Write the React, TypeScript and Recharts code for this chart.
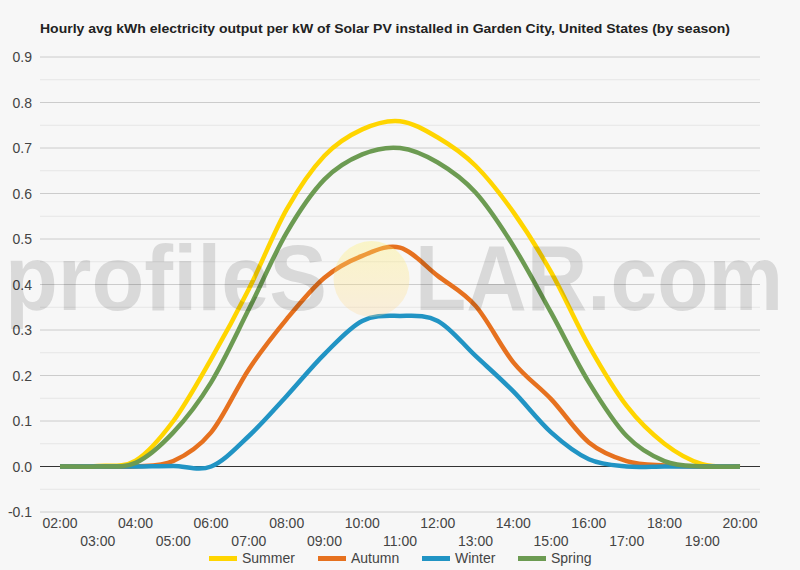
import React from 'react';
import { LineChart, Line, XAxis, YAxis, CartesianGrid, ReferenceLine } from 'recharts';

const hours = ['02:00','03:00','04:00','05:00','06:00','07:00','08:00','09:00','10:00','11:00','12:00','13:00','14:00','15:00','16:00','17:00','18:00','19:00','20:00'];
const summer = [0, 0.001, 0.013, 0.1, 0.236, 0.39, 0.565, 0.683, 0.741, 0.759, 0.723, 0.661, 0.559, 0.427, 0.265, 0.133, 0.05, 0.005, 0];
const autumn = [0, 0, 0, 0.012, 0.075, 0.214, 0.324, 0.415, 0.463, 0.481, 0.419, 0.353, 0.229, 0.148, 0.053, 0.012, 0.002, 0, 0];
const winter = [0, 0, 0, 0.001, 0, 0.067, 0.155, 0.247, 0.32, 0.331, 0.32, 0.243, 0.165, 0.075, 0.016, 0, 0, 0, 0];
const spring = [0, 0, 0.008, 0.075, 0.185, 0.346, 0.514, 0.631, 0.686, 0.7, 0.668, 0.602, 0.485, 0.338, 0.185, 0.067, 0.012, 0, 0];
const yTicks = [-0.1, 0, 0.1, 0.2, 0.3, 0.4, 0.5, 0.6, 0.7, 0.8, 0.9];
const minorTicks = [-0.05, 0.05, 0.15, 0.25, 0.35, 0.45, 0.55, 0.65, 0.75, 0.85];

const seriesInfo = [
  { key: 'Summer', color: '#ffd500' },
  { key: 'Autumn', color: '#e6711f' },
  { key: 'Winter', color: '#2194c4' },
  { key: 'Spring', color: '#6c9b52' },
];

const data = hours.map((h, i) => ({
  hour: h,
  Summer: summer[i],
  Autumn: autumn[i],
  Winter: winter[i],
  Spring: spring[i],
}));

// Catmull-Rom style curve (like Google Charts "function" curves)
const smoothCurve: any = (context: any) => {
  let pts: number[][] = [];
  return {
    areaStart() {},
    areaEnd() {},
    lineStart() { pts = []; },
    point(x: number, y: number) { pts.push([+x, +y]); },
    lineEnd() {
      const n = pts.length;
      if (!n) return;
      context.moveTo(pts[0][0], pts[0][1]);
      const k = 1 / 6;
      for (let i = 0; i < n - 1; i++) {
        const p0 = pts[i - 1] || pts[i];
        const p1 = pts[i];
        const p2 = pts[i + 1];
        const p3 = pts[i + 2] || p2;
        context.bezierCurveTo(
          p1[0] + (p2[0] - p0[0]) * k, p1[1] + (p2[1] - p0[1]) * k,
          p2[0] - (p3[0] - p1[0]) * k, p2[1] - (p3[1] - p1[1]) * k,
          p2[0], p2[1]
        );
      }
    },
  };
};

const FONT = '"Liberation Sans", Arial, sans-serif';

const XTick = (props: any) => {
  const { x, y, payload, index } = props;
  const dy = index % 2 === 0 ? 8 : 26;
  return (
    <text x={x} y={y + dy} textAnchor="middle" fontSize={14} fill="#444" fontFamily={FONT}>
      {payload.value}
    </text>
  );
};

const YTick = (props: any) => {
  const { y, payload } = props;
  return (
    <text x={32} y={y + 5} textAnchor="end" fontSize={14} fill="#444" fontFamily={FONT}>
      {Number(payload.value).toFixed(1)}
    </text>
  );
};

const legendPos = [
  { sx: 209, tx: 242 },
  { sx: 318, tx: 351 },
  { sx: 422, tx: 455 },
  { sx: 518, tx: 551 },
];

export default function App() {
  return (
    <div style={{ position: 'fixed', left: 0, top: 0, width: 800, height: 570, background: '#f7f7f7' }}>
      <LineChart
        width={800}
        height={570}
        data={data}
        margin={{ top: 57, right: 40, left: 0, bottom: 0 }}
      >
        <CartesianGrid horizontal vertical={false} stroke="#cccccc" strokeWidth={1} />
        {minorTicks.map((t) => (
          <ReferenceLine key={t} y={t} stroke="#e6e6e6" strokeWidth={1} ifOverflow="visible" />
        ))}
        <ReferenceLine y={0} stroke="#333333" strokeWidth={1} />
        <XAxis
          dataKey="hour"
          interval={0}
          height={58}
          padding={{ left: 20, right: 20 }}
          axisLine={false}
          tickLine={false}
          tick={<XTick />}
        />
        <YAxis
          width={40}
          domain={[-0.1, 0.9]}
          ticks={yTicks}
          axisLine={false}
          tickLine={false}
          tick={<YTick />}
          allowDataOverflow
        />
        {seriesInfo.map((s) => (
          <Line
            key={s.key}
            dataKey={s.key}
            type={smoothCurve}
            stroke={s.color}
            strokeWidth={4.5}
            dot={false}
            activeDot={false}
            isAnimationActive={false}
          />
        ))}
      </LineChart>
      <svg
        width={800}
        height={570}
        style={{ position: 'absolute', left: 0, top: 0, pointerEvents: 'none' }}
      >
        <defs>
          <linearGradient id="sun" x1="0" y1="0" x2="0" y2="1">
            <stop offset="0%" stopColor="#fff06a" stopOpacity={0.34} />
            <stop offset="100%" stopColor="#ffd89a" stopOpacity={0.3} />
          </linearGradient>
        </defs>
        <text x={40} y={33} fontSize={13.5} fontWeight="bold" fill="#222" fontFamily={FONT} textLength={690} lengthAdjust="spacingAndGlyphs">
          Hourly avg kWh electricity output per kW of Solar PV installed in Garden City, United States (by season)
        </text>
        <g fontFamily={FONT} fontWeight="bold" fontSize={92} fill="#000" fillOpacity={0.12}>
          <text x={5} y={310} textLength={322} lengthAdjust="spacingAndGlyphs">profileS</text>
          <text x={415} y={310} textLength={368} lengthAdjust="spacingAndGlyphs">LAR.com</text>
        </g>
        <circle cx={371.5} cy={279} r={38} fill="url(#sun)" />
        {seriesInfo.map((s, i) => (
          <g key={s.key}>
            <rect x={legendPos[i].sx} y={556} width={28} height={5} fill={s.color} />
            <text x={legendPos[i].tx} y={563} fontSize={14} fill="#444" fontFamily={FONT}>
              {s.key}
            </text>
          </g>
        ))}
      </svg>
    </div>
  );
}
